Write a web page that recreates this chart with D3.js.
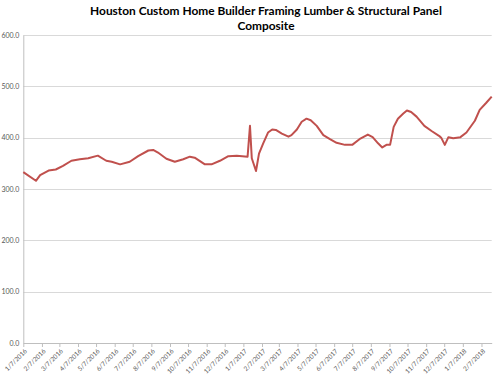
<!DOCTYPE html>
<html>
<head>
<meta charset="utf-8">
<title>Houston Custom Home Builder Framing Lumber</title>
<style>
	body { margin: 0; background: #fff; }
	.axis text { font: 7px Lato, sans-serif; fill: #595959; }
	.axis.x text { font-size: 6.4px; }
	.grid line { stroke: #d9d9d9; stroke-width: 1; }
	.title { font: bold 11.9px Lato, sans-serif; fill: #000; }
</style>
<script src="https://d3js.org/d3.v7.min.js"></script>
</head>
<body>
<script>
	// composite index, irregular reporting dates
	var dates = [
		"2016-01-07","2016-01-28","2016-02-04","2016-02-18","2016-03-01","2016-03-13","2016-03-27",
		"2016-04-10","2016-04-24","2016-05-10","2016-05-24","2016-06-02","2016-06-16","2016-07-02",
		"2016-07-16","2016-08-02","2016-08-10","2016-08-18","2016-09-01","2016-09-15","2016-09-29",
		"2016-10-10","2016-10-18","2016-11-04","2016-11-15","2016-11-29","2016-12-13","2016-12-27",
		"2017-01-14","2017-01-18","2017-01-21","2017-01-28","2017-02-02","2017-02-09","2017-02-17",
		"2017-02-24","2017-03-02","2017-03-12","2017-03-23","2017-03-28","2017-04-06","2017-04-14",
		"2017-04-22","2017-04-29","2017-05-09","2017-05-20","2017-05-31","2017-06-11","2017-06-25",
		"2017-07-07","2017-07-19","2017-08-02","2017-08-10","2017-08-19","2017-08-26","2017-09-02",
		"2017-09-08","2017-09-14","2017-09-21","2017-09-30","2017-10-06","2017-10-13","2017-10-22",
		"2017-11-04","2017-11-16","2017-11-29","2017-12-02","2017-12-08","2017-12-14","2017-12-22",
		"2018-01-03","2018-01-13","2018-01-27","2018-02-04","2018-02-15","2018-02-24"
	];
	var values = [
		333, 316, 327, 336, 338, 345, 355,
		358, 360, 365, 355, 353, 348, 353,
		364, 375, 376, 371, 359, 353, 358,
		363, 361, 348, 348, 355, 364, 365,
		363, 423, 360, 335, 369, 389, 410,
		416, 415, 408, 402, 405, 416, 431,
		437, 434, 423, 405, 397, 390, 386,
		386, 397, 406, 401, 389, 381, 386,
		386, 421, 437, 447, 453, 450, 441,
		423, 413, 403, 400, 386, 401, 399,
		401, 410, 433, 454, 468, 480
	];
	var yTicks = [0, 100, 200, 300, 400, 500, 600];
	var xTicks = [
		"2016-01-07","2016-02-07","2016-03-07","2016-04-07","2016-05-07","2016-06-07","2016-07-07",
		"2016-08-07","2016-09-07","2016-10-07","2016-11-07","2016-12-07","2017-01-07","2017-02-07",
		"2017-03-07","2017-04-07","2017-05-07","2017-06-07","2017-07-07","2017-08-07","2017-09-07",
		"2017-10-07","2017-11-07","2017-12-07","2018-01-07","2018-02-07"
	];
	var titleLines = ["Houston Custom Home Builder Framing Lumber & Structural Panel", "Composite"];

	var parse = d3.utcParse("%Y-%m-%d");
	var fmt = d3.utcFormat("%-m/%-d/%Y");

	var data = dates.map(function(d, i) { return {date: parse(d), value: values[i]}; });

	var svg = d3.select("body").append("svg")
		.attr("width", 500)
		.attr("height", 374);

	var margin = {top: 35, right: 8.3, bottom: 31, left: 23.3},
		width = 500 - margin.left - margin.right,
		height = 374 - margin.top - margin.bottom;

	var x = d3.scaleUtc()
		.domain([data[0].date, data[data.length - 1].date])
		.range([0, width]);
	var y = d3.scaleLinear().domain([0, 600]).range([height, 0]);

	svg.selectAll(".title")
		.data(titleLines)
		.enter().append("text")
		.attr("class", "title")
		.attr("x", 266)
		.attr("y", function(d, i) { return 15 + i * 15; })
		.attr("text-anchor", "middle")
		.text(function(d) { return d; });

	var g = svg.append("g")
		.attr("transform", "translate(" + margin.left + "," + margin.top + ")");

	// horizontal gridlines
	g.append("g")
		.attr("class", "grid")
		.selectAll("line")
		.data(yTicks.filter(function(t) { return t > 0; }))
		.enter().append("line")
		.attr("x1", 0)
		.attr("x2", width)
		.attr("y1", function(d) { return Math.round(y(d)) + 0.5; })
		.attr("y2", function(d) { return Math.round(y(d)) + 0.5; });

	var yAxis = g.append("g")
		.attr("class", "axis y")
		.call(d3.axisLeft(y).tickValues(yTicks).tickSize(0).tickPadding(4)
			.tickFormat(d3.format(".1f")));
	yAxis.select(".domain").attr("stroke", "#bfbfbf");

	var xAxis = g.append("g")
		.attr("class", "axis x")
		.attr("transform", "translate(0," + height + ")")
		.call(d3.axisBottom(x).tickValues(xTicks.map(parse)).tickSize(4).tickSizeOuter(0)
			.tickFormat(fmt));
	xAxis.select(".domain").attr("stroke", "#bfbfbf");
	xAxis.selectAll(".tick line").attr("stroke", "#bfbfbf");
	xAxis.selectAll(".tick text")
		.attr("x", 0)
		.attr("y", 0)
		.attr("dy", "0.35em")
		.attr("text-anchor", "end")
		.attr("transform", "translate(2,7) rotate(-45)");

	var line = d3.line()
		.x(function(d) { return x(d.date); })
		.y(function(d) { return y(d.value); });

	g.append("path")
		.datum(data)
		.attr("fill", "none")
		.attr("stroke", "#c0504d")
		.attr("stroke-width", 2)
		.attr("stroke-linejoin", "round")
		.attr("d", line);
</script>
</body>
</html>
